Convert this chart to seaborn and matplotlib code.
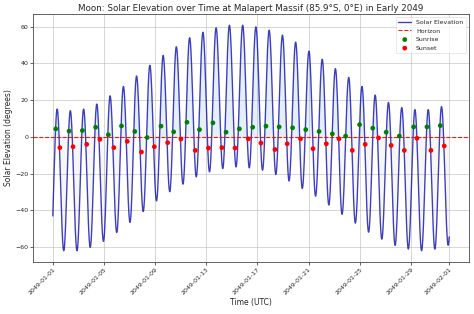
import numpy as np
import pandas as pd
import matplotlib
matplotlib.use("Agg")
import matplotlib.pyplot as plt
import matplotlib.dates as mdates
import seaborn as sns

# ---- data ----
start_date = "2049-01-01"
end_day = 31.0

# times (days since 2049-01-01 00:00 UTC) and values of daily maxima
peak_days = [0.34, 1.37, 2.41, 3.44, 4.48, 5.52, 6.55, 7.59, 8.63, 9.66,
             10.70, 11.74, 12.77, 13.81, 14.85, 15.88, 16.92, 17.96, 18.99, 20.03,
             21.07, 22.10, 23.14, 24.18, 25.21, 26.25, 27.29, 28.32, 29.36, 30.40]
peak_vals = [15.1, 14.2, 15.1, 17.8, 22.3, 27.4, 33.1, 38.9, 44.3, 49.0,
             53.9, 56.9, 59.3, 60.7, 60.7, 59.8, 58.0, 55.3, 51.5, 46.6,
             42.2, 37.1, 32.3, 27.4, 22.7, 18.7, 15.9, 14.8, 14.8, 16.4]
# daily minima (one before the first maximum, one after each maximum)
trough_vals = [-64.0, -62.0, -62.0, -60.2, -56.9, -52.1, -46.6, -40.7, -34.9, -29.9,
               -25.8, -21.8, -19.1, -17.3, -16.4, -16.9, -18.2, -20.5, -24.0, -28.1,
               -32.3, -37.1, -42.2, -47.0, -51.9, -55.7, -59.1, -61.1, -62.0, -61.1,
               -59.0]

sunrise_days = [0.23, 1.27, 2.31, 3.35, 4.34, 5.37, 6.41, 7.38, 8.46, 9.45,
                10.49, 11.47, 12.52, 13.55, 14.59, 15.63, 16.67, 17.70, 18.75, 19.78,
                20.82, 21.86, 22.90, 23.99, 25.02, 26.07, 27.10, 28.22, 29.26, 30.30]
sunrise_vals = [4.3, 3.1, 3.4, 5.2, 1.1, 5.9, 2.9, -0.4, 5.8, 2.7,
                7.9, 3.9, 7.6, 2.5, 4.3, 5.2, 5.8, 5.4, 4.9, 3.9,
                2.9, 1.6, 0.4, 6.6, 4.7, 2.5, 0.4, 5.4, 5.4, 6.1]
sunset_days = [0.55, 1.58, 2.65, 3.68, 4.77, 5.82, 6.93, 7.94, 8.98, 10.02,
               11.14, 12.17, 13.22, 14.25, 15.29, 16.28, 17.37, 18.33, 19.37, 20.35,
               21.39, 22.38, 23.42, 24.43, 25.47, 26.46, 27.49, 28.48, 29.57, 30.61]
sunset_vals = [-5.9, -5.4, -4.1, -1.4, -5.9, -2.5, -8.3, -5.4, -3.2, -1.2,
               -7.4, -6.1, -5.9, -6.1, -1.1, -3.4, -6.9, -3.8, -1.1, -6.5,
               -3.8, -1.1, -7.4, -4.1, -0.6, -4.7, -7.4, -0.8, -7.4, -5.0]

title = "Moon: Solar Elevation over Time at Malapert Massif (85.9°S, 0°E) in Early 2049"
xlabel = "Time (UTC)"
ylabel = "Solar Elevation (degrees)"

# ---- build the curve through the read extrema ----
pk = np.array(peak_days)
mids = (pk[:-1] + pk[1:]) / 2
step = np.mean(np.diff(pk))
trough_days = np.concatenate([[pk[0] - step / 2], mids, [pk[-1] + step / 2]])
knot_t = np.empty(len(pk) + len(trough_days))
knot_v = np.empty_like(knot_t)
knot_t[0::2] = trough_days
knot_v[0::2] = trough_vals
knot_t[1::2] = pk
knot_v[1::2] = peak_vals

t = np.linspace(0, end_day, int(end_day * 24 * 6) + 1)
idx = np.clip(np.searchsorted(knot_t, t) - 1, 0, len(knot_t) - 2)
f = (t - knot_t[idx]) / (knot_t[idx + 1] - knot_t[idx])
elev = knot_v[idx] + (knot_v[idx + 1] - knot_v[idx]) * (1 - np.cos(np.pi * f)) / 2

base = pd.Timestamp(start_date)
times = base + pd.to_timedelta(t, unit="D")
df = pd.DataFrame({"time": times, "elev": elev})
rise = pd.DataFrame({"time": base + pd.to_timedelta(sunrise_days, unit="D"), "elev": sunrise_vals})
sset = pd.DataFrame({"time": base + pd.to_timedelta(sunset_days, unit="D"), "elev": sunset_vals})

# ---- plot ----
sns.set_style("ticks")
plt.rcParams["font.family"] = ["DejaVu Sans"]
fig, ax = plt.subplots(figsize=(12, 7.95), dpi=39.5)
fig.subplots_adjust(left=0.0696, right=0.9895, top=0.9554, bottom=0.1656)

sns.lineplot(data=df, x="time", y="elev", ax=ax, color="#0000aa", alpha=0.75,
             linewidth=2.5, label="Solar Elevation")
ax.fill_between(df["time"], df["elev"], 0, where=df["elev"] > 0,
                color="#7fb2e6", alpha=0.2, linewidth=0)
ax.fill_between(df["time"], df["elev"], 0, where=df["elev"] <= 0,
                color="gray", alpha=0.07, linewidth=0)
ax.axhline(0, color="red", linestyle="--", linewidth=2.0, alpha=0.9, label="Horizon")
sns.scatterplot(data=rise, x="time", y="elev", ax=ax, color="green", s=75,
                edgecolor="none", label="Sunrise", zorder=5)
sns.scatterplot(data=sset, x="time", y="elev", ax=ax, color="red", s=75,
                edgecolor="none", label="Sunset", zorder=5)

ax.set_title(title, fontsize=16)
ax.set_xlabel(xlabel, fontsize=14)
ax.set_ylabel(ylabel, fontsize=14)
ax.xaxis.set_major_locator(mdates.DayLocator(bymonthday=[1, 5, 9, 13, 17, 21, 25, 29]))
ax.xaxis.set_major_formatter(mdates.DateFormatter("%Y-%m-%d"))
ax.set_yticks([-60, -40, -20, 0, 20, 40, 60])
ax.tick_params(axis="both", labelsize=11.5, width=1.5, length=5, color="#444444")
plt.setp(ax.get_xticklabels(), rotation=45, ha="right", rotation_mode="anchor")
ax.grid(True, color="#b0b0b0", alpha=0.7, linewidth=1.3)
for s in ax.spines.values():
    s.set_color("#444444")
    s.set_linewidth(1.5)
ax.legend(loc="upper right", fontsize=11.5, framealpha=0.8)

fig.savefig("out.png", dpi=39.5)
